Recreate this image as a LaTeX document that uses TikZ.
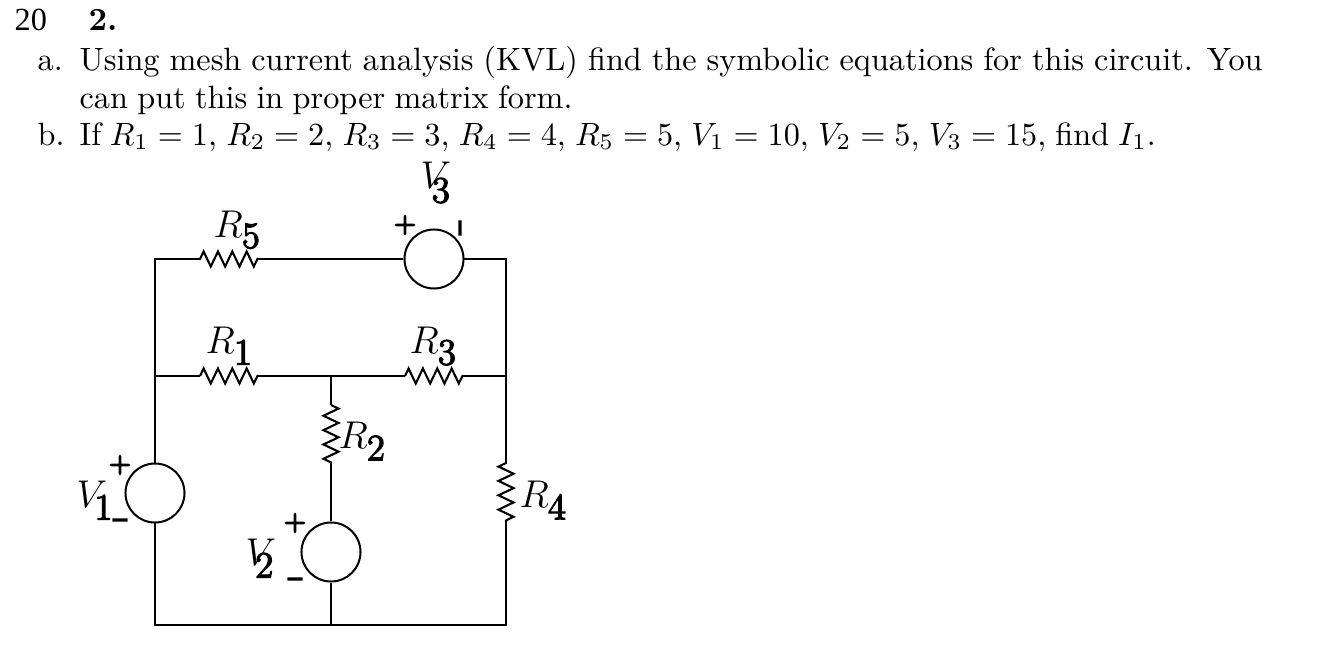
\documentclass[tikz,border=0pt]{standalone}
\usepackage{fontspec}
\newfontfamily\markfont{Liberation Serif}
\newfontfamily\subfont[RawFeature={embolden=3}]{Latin Modern Roman}
\newfontfamily\signfont[RawFeature={embolden=6}]{Latin Modern Sans}
\usetikzlibrary{decorations.pathmorphing}
\tikzset{
	wire/.style={line width=0.78pt},
	resistor/.style={wire,line width=0.65pt,decorate,decoration={zigzag,segment length=4.45pt,amplitude=2.33pt}},
	source/.style={circle,draw,line width=0.62pt,inner sep=0pt,minimum size=18.3pt},
	textline/.style={anchor=base west,inner sep=0pt},
	cktlabel/.style={anchor=base west,inner sep=0pt,font=\large},
	polarity/.style={inner sep=0pt,font=\signfont\footnotesize}
}
\newcommand{\lab}[4]{$#1$\kern#3\raisebox{#4}{\fontsize{11.5}{13}\subfont #2}}
\newcommand{\fitline}[2]{\hbox to #1{\spaceskip=3.33pt plus 1fil minus 3pt #2}}
\begin{document}
\begin{tikzpicture}[x=0.31pt,y=-0.31pt]
	\useasboundingbox (0,0) rectangle (1320,646);
	\node[textline] (num) at (14,31) {\markfont 20};
	\node[textline] (prob) at (88,31) {\textbf{2.}};
	\node[textline] (amark) at (37,70) {a.};
	\node[textline] (a1) at (79,70) {\fitline{366.7pt}{Using mesh current analysis (KVL) find the symbolic equations for this circuit. You}};
	\node[textline] (a2) at (79,108) {\fitline{152.8pt}{can put this in proper matrix form.}};
	\node[textline] (bmark) at (37,145) {b.};
	\node[textline] (b1) at (79,145) {\fitline{333.6pt}{If $R_1=1$, $R_2=2$, $R_3=3$, $R_4=4$, $R_5=5$, $V_1=10$, $V_2=5$, $V_3=15$, find $I_1$.}};
	% corners and junctions
	\coordinate (tl) at (155,259);
	\coordinate (tr) at (506,259);
	\coordinate (ml) at (155,376);
	\coordinate (mm) at (331,376);
	\coordinate (mr) at (506,376);
	\coordinate (bl) at (155,625);
	\coordinate (bm) at (331,625);
	\coordinate (br) at (506,625);
	% resistor ends
	\coordinate (r5a) at (200,259);
	\coordinate (r5b) at (258,259);
	\coordinate (r1a) at (200,376);
	\coordinate (r1b) at (258,376);
	\coordinate (r3a) at (405,376);
	\coordinate (r3b) at (463,376);
	\coordinate (r2a) at (331,405);
	\coordinate (r2b) at (331,463);
	\coordinate (r4a) at (506,463);
	\coordinate (r4b) at (506,522);
	% sources
	\node[source] (v3) at (434,259) {};
	\node[source] (v1) at (155,493) {};
	\node[source] (v2) at (331,552) {};
	% wires
	\draw[wire,line cap=rect] (v1) -- (ml) -- (tl) -- (r5a);
	\draw[wire] (r5b) -- (v3);
	\draw[wire,line cap=rect] (v3) -- (tr) -- (mr) -- (r4a);
	\draw[wire] (ml) -- (r1a);
	\draw[wire] (r1b) -- (mm) -- (r3a);
	\draw[wire] (r3b) -- (mr);
	\draw[wire] (mm) -- (r2a);
	\draw[wire] (r2b) -- (v2);
	\draw[wire] (v2) -- (bm);
	\draw[wire,line cap=rect] (r4b) -- (br) -- (bl) -- (v1);
	\draw[resistor] (r5a) -- (r5b);
	\draw[resistor] (r1a) -- (r1b);
	\draw[resistor] (r3a) -- (r3b);
	\draw[resistor] (r2a) -- (r2b);
	\draw[resistor,decoration={mirror}] (r4a) -- (r4b);
	% labels
	\node[cktlabel] (lr5) at (213,237) {\lab{R}{5}{-0.3pt}{-3.4pt}};
	\node[cktlabel] (lr1) at (205,353) {\lab{R}{1}{-0.3pt}{-3.6pt}};
	\node[cktlabel] (lr3) at (409,353) {\lab{R}{3}{-0.3pt}{-3.6pt}};
	\node[cktlabel] (lr2) at (338,448) {\lab{R}{2}{-0.3pt}{-3.8pt}};
	\node[cktlabel] (lr4) at (519,507) {\lab{R}{4}{-0.3pt}{-3.8pt}};
	\node[cktlabel] (lv3) at (420,188) {\lab{V}{3}{-6pt}{-4.5pt}};
	\node[cktlabel] (lv1) at (76,507) {\lab{V}{1}{-4pt}{-3.9pt}};
	\node[cktlabel] (lv2) at (245,565) {\lab{V}{2}{-6.5pt}{-3.9pt}};
	\node[polarity] (p3) at (405,225) {+};
	\node[polarity,rotate=90] (n3) at (463,228) {–};
	\node[polarity] (p1) at (120,465) {+};
	\node[polarity] (n1) at (120,523) {–};
	\node[polarity] (p2) at (295,523) {+};
	\node[polarity] (n2) at (295,582) {–};
\end{tikzpicture}
\end{document}
